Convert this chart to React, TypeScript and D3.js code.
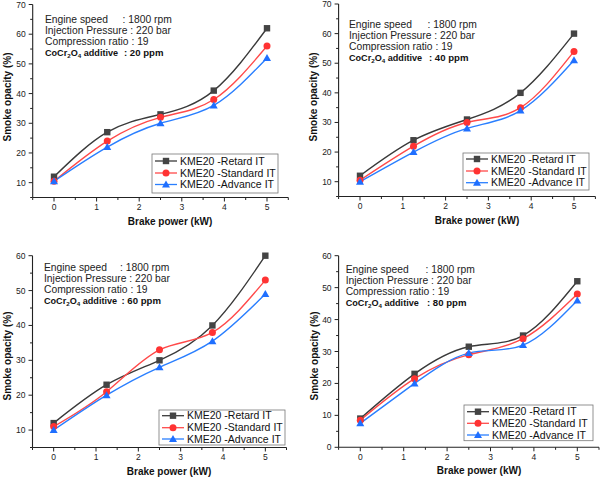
import React from "react";
import * as d3 from "d3";

// Brake power load points (kW)
const powerKW = [0, 1.25, 2.5, 3.75, 5];

// Smoke opacity (%) for each CoCr2O4 dose and injection timing
const retard20 = [12, 27, 33, 41, 62];
const standard20 = [10.5, 24, 32, 38, 56];
const advance20 = [10.5, 22, 30, 36, 52];

const retard40 = [12, 24, 31, 40, 60];
const standard40 = [10.5, 22, 30, 35, 54];
const advance40 = [10, 20, 28, 34, 51];

const retard60 = [12, 23, 30, 40, 60];
const standard60 = [11, 21, 33, 38, 53];
const advance60 = [10, 20, 28, 35.5, 49];

const retard80 = [9, 23, 31.5, 35, 52];
const standard80 = [8.5, 21.5, 29, 34, 48];
const advance80 = [7.5, 20, 29.5, 32, 46];

const seriesNames = ["KME20 -Retard IT", "KME20 -Standard IT", "KME20 -Advance IT"];
const additiveDoses = ["20 ppm", "40 ppm", "60 ppm", "80 ppm"];

const xTicks = [0, 1, 2, 3, 4, 5];
const yTicksTo70 = [10, 20, 30, 40, 50, 60, 70];
const yTicksTo60 = [10, 20, 30, 40, 50, 60];
const yTicksFrom0 = [0, 10, 20, 30, 40, 50, 60];

const speedLabel = "Engine speed";
const speedValue = ": 1800 rpm";
const pressureText = "Injection Pressure : 220 bar";
const ratioText = "Compression ratio : 19";

const seriesStyles = [
  { line: "#3a3a3a", fill: "#444444", marker: "square" },
  { line: "#ff4a4a", fill: "#ff3333", marker: "circle" },
  { line: "#2a7fff", fill: "#1f6fff", marker: "triangle" },
];

const FONT = "'Liberation Sans', Arial, Helvetica, sans-serif";

type Panel = {
  series: number[][];
  dose: string;
  xRange: [number, number];
  yDomain: [number, number];
  yRange: [number, number];
  yTicks: number[];
  note: { x: number; y: number; colonX: number };
  legend: { x0: number; x1: number; y0: number; y1: number; rows: number[] };
  xTitle: [number, number];
  yTitle: [number, number];
};

const panels: Panel[] = [
  {
    series: [retard20, standard20, advance20],
    dose: additiveDoses[0],
    xRange: [32.7, 288.3],
    yDomain: [5, 70],
    yRange: [197.5, 4.5],
    yTicks: yTicksTo70,
    note: { x: 45, y: 22.5, colonX: 122.5 },
    legend: { x0: 152, x1: 278, y0: 154, y1: 193, rows: [161, 173, 184.5] },
    xTitle: [170, 224.5],
    yTitle: [10.5, 97],
  },
  {
    series: [retard40, standard40, advance40],
    dose: additiveDoses[1],
    xRange: [338.6, 595.4],
    yDomain: [5, 70],
    yRange: [196.5, 4],
    yTicks: yTicksTo70,
    note: { x: 349, y: 27.5, colonX: 427.5 },
    legend: { x0: 463, x1: 589, y0: 153, y1: 190, rows: [159, 171, 182.7] },
    xTitle: [477, 223.5],
    yTitle: [316.5, 97],
  },
  {
    series: [retard60, standard60, advance60],
    dose: additiveDoses[2],
    xRange: [32.5, 286.5],
    yDomain: [5, 60],
    yRange: [447.5, 255.7],
    yTicks: yTicksTo60,
    note: { x: 44, y: 270.5, colonX: 120 },
    legend: { x0: 159, x1: 285, y0: 410, y1: 445, rows: [415.7, 427.7, 439] },
    xTitle: [169, 474.5],
    yTitle: [10.5, 356],
  },
  {
    series: [retard80, standard80, advance80],
    dose: additiveDoses[3],
    xRange: [338.6, 599],
    yDomain: [0, 60],
    yRange: [447.3, 255.7],
    yTicks: yTicksFrom0,
    note: { x: 345.7, y: 272.5, colonX: 425.5 },
    legend: { x0: 464, x1: 593, y0: 405, y1: 440.7, rows: [411.7, 423.3, 435] },
    xTitle: [479, 473.5],
    yTitle: [317.5, 356],
  },
];

function Marker({ kind, x, y, fill }: { kind: string; x: number; y: number; fill: string }) {
  if (kind === "square") {
    return <rect x={x - 3.2} y={y - 3.2} width={6.4} height={6.4} fill={fill} />;
  }
  if (kind === "circle") {
    return <circle cx={x} cy={y} r={3.5} fill={fill} />;
  }
  const s = 4;
  return (
    <path
      d={`M${x},${y - s} L${x + s},${y + s * 0.75} L${x - s},${y + s * 0.75} Z`}
      fill={fill}
    />
  );
}

function ChartPanel({ p }: { p: Panel }) {
  const x = d3.scaleLinear().domain([-0.5, 5.5]).range(p.xRange);
  const y = d3.scaleLinear().domain(p.yDomain).range(p.yRange);
  const axisY = p.yRange[0];
  const axisX = p.xRange[0];

  const line = d3
    .line<number>()
    .x((_, i) => x(powerKW[i]))
    .y((v) => y(v))
    .curve(d3.curveNatural);

  const xMinor = d3.range(-0.5, 5.51, 0.5).filter((v) => !Number.isInteger(v));
  const yMinor = d3
    .range(p.yDomain[0], p.yDomain[1] + 0.01, 5)
    .filter((v) => !p.yTicks.includes(v));

  const lh = 11;
  const clipId = `clip-${p.dose.replace(/\s/g, "")}`;

  return (
    <g fontFamily={FONT}>
      <defs>
        <clipPath id={clipId}>
          <rect
            x={p.xRange[0]}
            y={p.yRange[1] - 4}
            width={p.xRange[1] - p.xRange[0]}
            height={p.yRange[0] - p.yRange[1] + 4}
          />
        </clipPath>
      </defs>

      {/* axes */}
      <line x1={axisX} x2={p.xRange[1]} y1={axisY} y2={axisY} stroke="#222" strokeWidth={1.1} />
      <line x1={axisX} x2={axisX} y1={p.yRange[1]} y2={axisY} stroke="#222" strokeWidth={1.1} />

      {xTicks.map((t) => (
        <g key={`xt${t}`}>
          <line x1={x(t)} x2={x(t)} y1={axisY} y2={axisY + 4} stroke="#222" />
          <text x={x(t)} y={axisY + 12.5} fontSize={8.5} textAnchor="middle" fill="#222">
            {t}
          </text>
        </g>
      ))}
      {xMinor.map((t) => (
        <line key={`xm${t}`} x1={x(t)} x2={x(t)} y1={axisY} y2={axisY + 2.5} stroke="#222" />
      ))}
      {p.yTicks.map((t) => (
        <g key={`yt${t}`}>
          <line x1={axisX - 4} x2={axisX} y1={y(t)} y2={y(t)} stroke="#222" />
          <text x={axisX - 7} y={y(t) + 3} fontSize={8.5} textAnchor="end" fill="#222">
            {t}
          </text>
        </g>
      ))}
      {yMinor.map((t) => (
        <line key={`ym${t}`} x1={axisX - 2.5} x2={axisX} y1={y(t)} y2={y(t)} stroke="#222" />
      ))}

      {/* axis titles */}
      <text
        x={p.xTitle[0]}
        y={p.xTitle[1]}
        fontSize={10}
        fontWeight="bold"
        textAnchor="middle"
        fill="#111"
      >
        Brake power (kW)
      </text>
      <text
        transform={`translate(${p.yTitle[0]},${p.yTitle[1]}) rotate(-90)`}
        fontSize={10}
        fontWeight="bold"
        textAnchor="middle"
        fill="#111"
      >
        Smoke opacity (%)
      </text>

      {/* operating conditions */}
      <g fontSize={10.3} fill="#222">
        <text x={p.note.x} y={p.note.y}>
          {speedLabel}
        </text>
        <text x={p.note.colonX} y={p.note.y}>
          {speedValue}
        </text>
        <text x={p.note.x} y={p.note.y + lh}>
          {pressureText}
        </text>
        <text x={p.note.x} y={p.note.y + 2 * lh}>
          {ratioText}
        </text>
        <text x={p.note.x} y={p.note.y + 3 * lh} fontSize={9.1} fontWeight="bold" fill="#111">
          CoCr<tspan fontSize={6.2} dy={2}>2</tspan>
          <tspan dy={-2}>O</tspan>
          <tspan fontSize={6.2} dy={2}>4</tspan>
          <tspan dy={-2}> additive</tspan>
        </text>
        <text x={p.note.colonX + 1.5} y={p.note.y + 3 * lh} fontSize={9.6} fontWeight="bold" fill="#111">
          {`: ${p.dose}`}
        </text>
      </g>

      {/* series */}
      <g clipPath={`url(#${clipId})`}>
        {p.series.map((vals, si) => (
          <path
            key={`l${si}`}
            d={line(vals) || ""}
            fill="none"
            stroke={seriesStyles[si].line}
            strokeWidth={1.4}
          />
        ))}
        {p.series.map((vals, si) =>
          vals.map((v, i) => (
            <Marker
              key={`m${si}-${i}`}
              kind={seriesStyles[si].marker}
              x={x(powerKW[i])}
              y={y(v)}
              fill={seriesStyles[si].fill}
            />
          ))
        )}
      </g>

      {/* legend */}
      <rect
        x={p.legend.x0}
        y={p.legend.y0}
        width={p.legend.x1 - p.legend.x0}
        height={p.legend.y1 - p.legend.y0}
        fill="#fff"
        stroke="#777"
        strokeWidth={0.8}
      />
      {seriesNames.map((name, si) => {
        const ry = p.legend.rows[si];
        const lx0 = p.legend.x0 + 3;
        const lx1 = p.legend.x0 + 25;
        return (
          <g key={name}>
            <line x1={lx0} x2={lx1} y1={ry} y2={ry} stroke={seriesStyles[si].line} strokeWidth={1.3} />
            <Marker kind={seriesStyles[si].marker} x={(lx0 + lx1) / 2} y={ry} fill={seriesStyles[si].fill} />
            <text x={p.legend.x0 + 28} y={ry + 3.7} fontSize={10.5} fill="#111">
              {name}
            </text>
          </g>
        );
      })}
    </g>
  );
}

export default function App() {
  return (
    <svg
      width={602}
      height={480}
      viewBox="0 0 602 480"
      style={{ position: "absolute", left: 0, top: 0, background: "#fff" }}
    >
      <rect width={602} height={480} fill="#fff" />
      {panels.map((p) => (
        <ChartPanel key={p.dose} p={p} />
      ))}
    </svg>
  );
}
